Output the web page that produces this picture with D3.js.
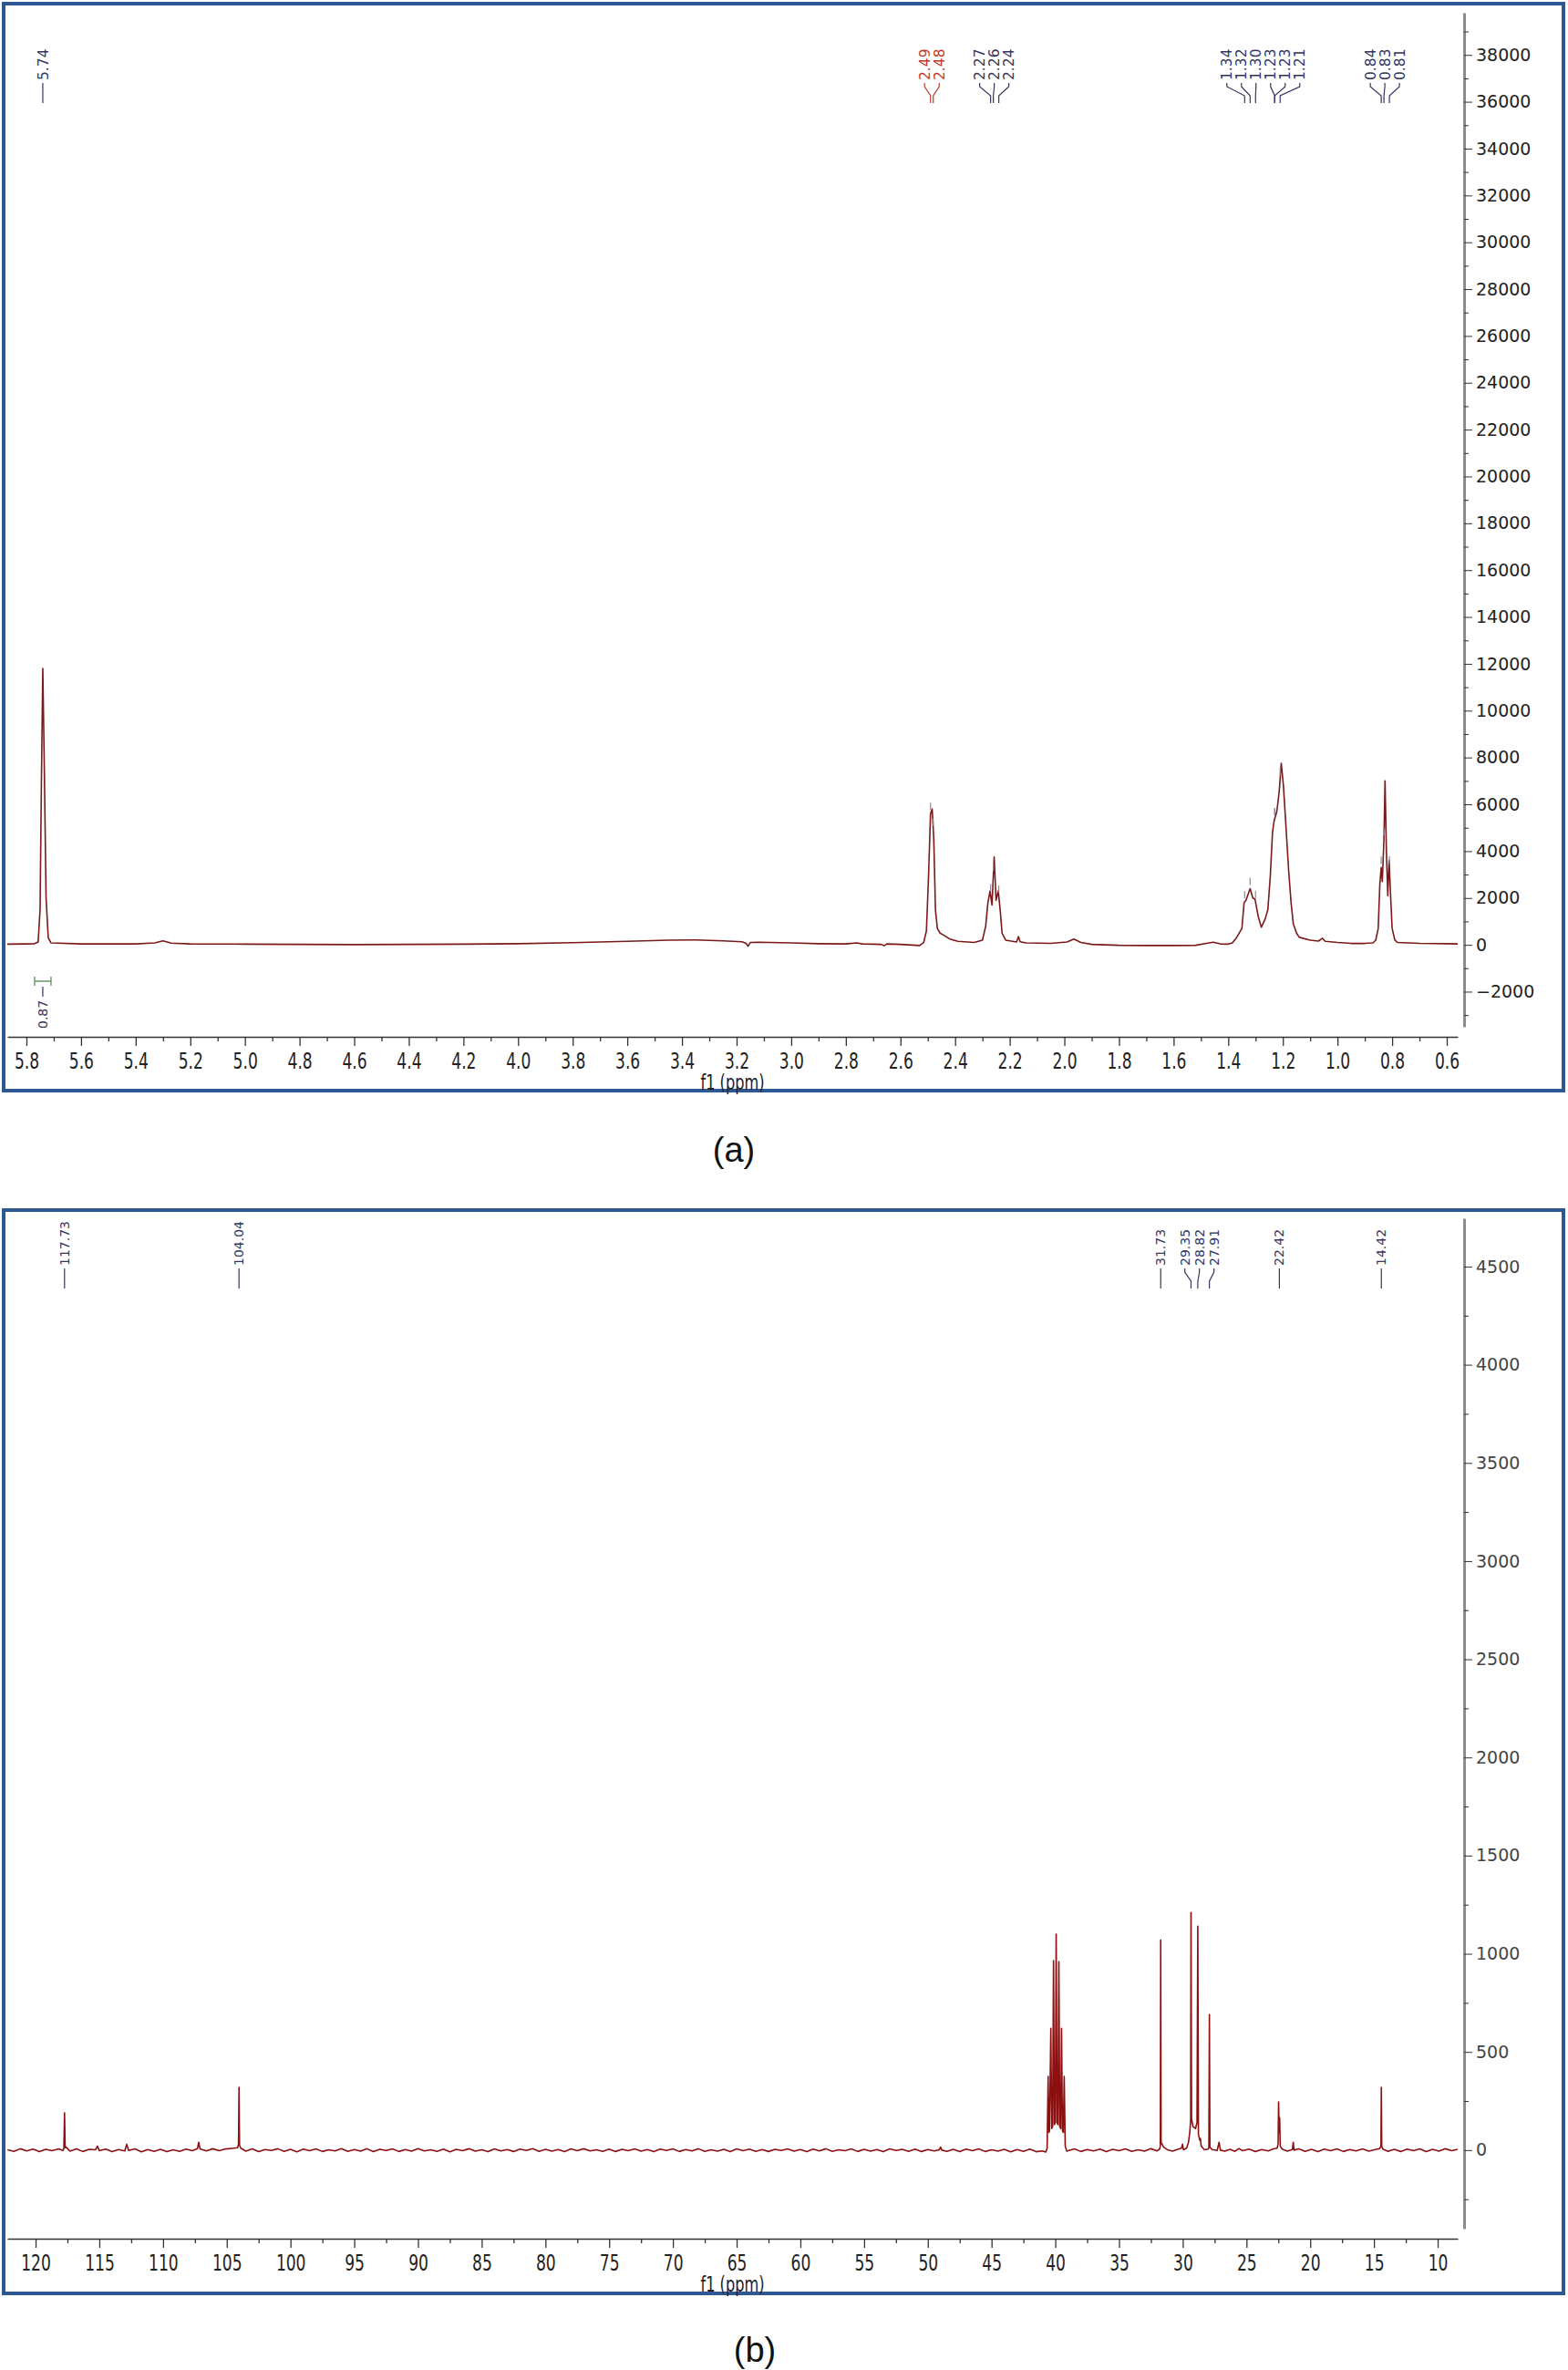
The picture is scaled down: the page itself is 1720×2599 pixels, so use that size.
<!DOCTYPE html>
<html>
<head>
<meta charset="utf-8">
<script src="https://cdn.jsdelivr.net/npm/d3@7"></script>
<style>
  body { margin: 0; background: #fff; }
  svg { display: block; font-family: "DejaVu Sans", sans-serif; }
</style>
</head>
<body>
<div id="chart"></div>
<script>
// ---- Data: (a) 1H spectrum, [ppm, intensity]
const hSpectrum = [
  [5.870, 30], [5.80, 40], [5.77, 50], [5.757, 120], [5.750, 1500], [5.745, 7000], [5.740, 11800],
  [5.735, 8000], [5.728, 2000], [5.720, 300], [5.710, 80], [5.60, 40], [5.40, 40], [5.33, 80],
  [5.30, 170], [5.27, 70], [5.20, 40], [5.00, 30], [4.80, 20], [4.60, 10], [4.40, 20], [4.20, 30],
  [4.00, 50], [3.80, 90], [3.60, 150], [3.45, 200], [3.35, 210], [3.25, 170], [3.18, 130],
  [3.165, 60], [3.158, -60], [3.150, 100], [3.12, 110], [3.00, 80], [2.90, 50], [2.80, 40],
  [2.76, 80], [2.74, 40], [2.67, 20], [2.66, -40], [2.65, 40], [2.60, 20], [2.53, -30],
  [2.515, 100], [2.505, 600], [2.497, 3000], [2.490, 5600], [2.484, 5800], [2.478, 4500],
  [2.472, 1500], [2.465, 700], [2.455, 500], [2.44, 400], [2.42, 250], [2.39, 150], [2.33, 100],
  [2.30, 200], [2.288, 800], [2.280, 1800], [2.272, 2300], [2.265, 1700], [2.257, 3750],
  [2.250, 1900], [2.242, 2300], [2.235, 1500], [2.228, 500], [2.215, 200], [2.19, 150],
  [2.175, 120], [2.168, 350], [2.162, 130], [2.14, 80], [2.05, 60], [1.99, 120], [1.965, 250],
  [1.94, 100], [1.90, 20], [1.80, -20], [1.70, -30], [1.60, -30], [1.52, -20], [1.47, 80],
  [1.455, 110], [1.43, 40], [1.40, 30], [1.385, 80], [1.37, 300], [1.35, 700], [1.342, 1800],
  [1.335, 1900], [1.320, 2400], [1.310, 2000], [1.302, 1950], [1.290, 1200], [1.279, 750],
  [1.265, 1100], [1.255, 1500], [1.246, 2950], [1.238, 4800], [1.232, 5300], [1.222, 5700],
  [1.213, 6600], [1.206, 7750], [1.198, 6800], [1.190, 5300], [1.179, 3200], [1.170, 1800],
  [1.162, 900], [1.150, 500], [1.140, 320], [1.10, 200], [1.07, 160], [1.055, 280], [1.045, 150],
  [1.00, 100], [0.95, 60], [0.90, 60], [0.87, 80], [0.860, 200], [0.851, 700], [0.845, 2600],
  [0.840, 3300], [0.836, 2700], [0.830, 4500], [0.826, 7000], [0.821, 4000], [0.816, 2100],
  [0.811, 3600], [0.806, 2200], [0.800, 700], [0.790, 200], [0.780, 100], [0.70, 60],
  [0.60, 50], [0.560, 40]
];
const hPeaks = ['5.74', '2.49', '2.48', '2.27', '2.26', '2.24', '1.34', '1.32', '1.30', '1.23', '1.23', '1.21', '0.84', '0.83', '0.81'];
const hSolventPeaks = ['2.49', '2.48'];
const hIntegralRange = [5.77, 5.71];
const hIntegralValue = '0.87';
const hXTicks = [5.8, 5.6, 5.4, 5.2, 5.0, 4.8, 4.6, 4.4, 4.2, 4.0, 3.8, 3.6, 3.4, 3.2, 3.0, 2.8, 2.6, 2.4, 2.2, 2.0, 1.8, 1.6, 1.4, 1.2, 1.0, 0.8, 0.6];
const hYTicks = [-2000, 0, 2000, 4000, 6000, 8000, 10000, 12000, 14000, 16000, 18000, 20000, 22000, 24000, 26000, 28000, 30000, 32000, 34000, 36000, 38000];

// ---- Data: (b) 13C spectrum, [ppm, intensity]
const cSpectrum = [
  [122.2, 2], [121.7, -6], [121.2, 7], [120.7, -4], [120.2, 5], [119.7, -8], [119.2, 4], [118.7, -3],
  [118.2, 6], [117.85, -2], [117.78, 10], [117.73, 190], [117.68, 12], [117.6, 15], [117.3, -5],
  [116.8, 6], [116.3, -7], [115.8, 4], [115.3, 2], [115.15, 20], [115.0, -3], [114.5, 5], [114.0, -8],
  [113.5, 3], [113.0, -4], [112.85, 30], [112.7, -2], [112.2, 6], [111.7, -9], [111.2, 3], [110.7, -6],
  [110.2, 4], [109.7, -8], [109.2, 2], [108.7, -6], [108.2, 5], [107.7, -3], [107.3, 8], [107.2, 40],
  [107.1, 6], [106.6, -4], [106.1, 7], [105.6, -3], [105.1, 6], [104.6, 9], [104.15, 12], [104.08, 30],
  [104.04, 320], [104.0, 25], [103.9, 10], [103.5, -5], [103.0, 6], [102.5, -8], [102.0, 3], [101.5, -2],
  [101.0, 7], [100.5, -6], [100.0, 4], [99.5, -9], [99.0, 5], [98.5, -3], [98.0, 6], [97.5, -7],
  [97.0, 2], [96.5, -4], [96.0, 8], [95.5, -6], [95.0, 3], [94.5, -5], [94.0, 7], [93.5, -8],
  [93.0, 4], [92.5, -2], [92.0, 6], [91.5, -7], [91.0, 3], [90.5, -5], [90.0, 8], [89.5, -4],
  [89.0, 2], [88.5, -6], [88.0, 5], [87.5, -9], [87.0, 4], [86.5, -3], [86.0, 7], [85.5, -5],
  [85.0, 2], [84.5, -8], [84.0, 6], [83.5, -4], [83.0, 3], [82.5, -7], [82.0, 5], [81.5, -2],
  [81.0, 8], [80.5, -6], [80.0, 4], [79.5, -5], [79.0, 3], [78.5, -8], [78.0, 6], [77.5, -3],
  [77.0, 7], [76.5, -4], [76.0, 2], [75.5, -6], [75.0, 5], [74.5, -7], [74.0, 4], [73.5, -3],
  [73.0, 6], [72.5, -5], [72.0, 3], [71.5, -8], [71.0, 5], [70.5, -2], [70.0, 6], [69.5, -7],
  [69.0, 3], [68.5, -4], [68.0, 7], [67.5, -6], [67.0, 2], [66.5, -5], [66.0, 4], [65.5, -8],
  [65.0, 6], [64.5, -3], [64.0, 5], [63.5, -6], [63.0, 3], [62.5, -7], [62.0, 4], [61.5, -2],
  [61.0, 6], [60.5, -5], [60.0, 3], [59.5, -8], [59.0, 5], [58.5, -4], [58.0, 7], [57.5, -6],
  [57.0, 2], [56.5, -3], [56.0, 6], [55.5, -7], [55.0, 4], [54.5, -5], [54.0, 3], [53.5, -8],
  [53.0, 6], [52.5, -2], [52.0, 4], [51.5, -6], [51.0, 5], [50.5, -7], [50.0, 3], [49.5, -4],
  [49.1, 2], [49.0, 15], [48.9, 0], [48.5, -6], [48.0, 4], [47.5, -8], [47.0, 5], [46.5, -3],
  [46.0, 6], [45.5, -7], [45.0, 2], [44.5, -5], [44.0, 4], [43.5, -9], [43.0, 3], [42.5, -6],
  [42.0, 5], [41.5, -8], [41.0, -4], [40.75, -10], [40.64, 10], [40.56, 375], [40.50, 90],
  [40.45, 100], [40.35, 620], [40.28, 110], [40.21, 120], [40.14, 965], [40.07, 130], [40.00, 140],
  [39.93, 1100], [39.86, 140], [39.79, 130], [39.72, 960], [39.65, 120], [39.58, 110], [39.51, 620],
  [39.44, 100], [39.37, 90], [39.30, 375], [39.22, 20], [39.1, -5], [38.5, 6], [38.0, -7], [37.5, 3],
  [37.0, -4], [36.5, 5], [36.0, -8], [35.5, 4], [35.0, -3], [34.5, 6], [34.0, -6], [33.5, 2],
  [33.0, -5], [32.5, 7], [32.0, -4], [31.82, 5], [31.76, 20], [31.73, 1070], [31.70, 40], [31.62, 30],
  [31.5, 15], [31.2, 2], [30.8, -5], [30.4, 4], [30.1, 10], [30.02, 30], [29.95, 2], [29.7, 10],
  [29.55, 40], [29.45, 90], [29.38, 150], [29.35, 1210], [29.31, 160], [29.2, 120], [29.0, 110],
  [28.88, 140], [28.82, 1140], [28.77, 80], [28.66, 50], [28.62, 60], [28.55, 20], [28.3, 2],
  [28.0, 5], [27.95, 15], [27.91, 690], [27.87, 15], [27.7, 3], [27.3, -2], [27.15, 40], [27.05, 0],
  [26.7, -5], [26.3, 4], [25.9, -6], [25.6, 8], [25.3, -3], [24.8, 5], [24.3, -7], [23.8, 3],
  [23.3, -4], [22.9, 6], [22.6, 10], [22.52, 30], [22.48, 245], [22.44, 90], [22.40, 165],
  [22.35, 20], [22.2, 5], [21.8, -5], [21.4, 3], [21.33, 40], [21.27, 0], [20.9, 6], [20.4, -6],
  [19.9, 4], [19.4, -8], [18.9, 5], [18.4, -3], [17.9, 6], [17.4, -7], [16.9, 3], [16.4, -4],
  [15.9, 6], [15.4, -5], [14.9, 3], [14.55, 8], [14.45, 20], [14.42, 320], [14.39, 20], [14.3, 5],
  [13.9, -6], [13.4, 4], [12.9, -7], [12.4, 5], [11.9, -3], [11.4, 6], [10.9, -8], [10.4, 4],
  [9.9, -5], [9.4, 7], [8.9, -3], [8.43, 4]
];
const cPeaks = ['117.73', '104.04', '31.73', '29.35', '28.82', '27.91', '22.42', '14.42'];
const cXTicks = [120, 115, 110, 105, 100, 95, 90, 85, 80, 75, 70, 65, 60, 55, 50, 45, 40, 35, 30, 25, 20, 15, 10];
const cYTicks = [0, 500, 1000, 1500, 2000, 2500, 3000, 3500, 4000, 4500];

const svg = d3.select('#chart')
  .append('svg')
  .attr('width', 1720)
  .attr('height', 2599);

svg.append('rect').attr('width', 1720).attr('height', 2599).attr('fill', '#fff');

const panels = [
  {
    name: '(a)',
    box: {x: 4, y: 4, w: 1711, h: 1192},
    x: d3.scaleLinear().domain([5.870, 0.560]).range([8, 1599]),
    y: d3.scaleLinear().domain([-3500, 39800]).range([1126, 14]),
    xAxisY: 1137,
    yAxisX: 1606,
    spectrum: hSpectrum,
    peaks: hPeaks,
    solvent: hSolventPeaks,
    xTicks: hXTicks,
    yTicks: hYTicks,
    yTickFmt: d3.format('d'),
    xTickFmt: d3.format('.1f'),
    labelBase: 88,
    labelSize: 15.5,
    lineColor: '#7a1a1a',
    yLabelColor: '#222',
    caption: {x: 805, y: 1264},
    marks: true
  },
  {
    name: '(b)',
    box: {x: 4, y: 1327, w: 1711, h: 1188},
    x: d3.scaleLinear().domain([122.22, 8.43]).range([8, 1599]),
    y: d3.scaleLinear().domain([-400, 4746]).range([2444, 1336]),
    xAxisY: 2455,
    yAxisX: 1606,
    spectrum: cSpectrum,
    peaks: cPeaks,
    solvent: [],
    xTicks: cXTicks,
    yTicks: cYTicks,
    yTickFmt: d3.format('d'),
    xTickFmt: d3.format('d'),
    labelBase: 1388,
    labelSize: 14,
    lineColor: '#8e0f0f',
    yLabelColor: '#444',
    caption: {x: 828, y: 2580},
    marks: false
  }
];

panels.forEach(drawPanel);
drawIntegral(panels[0]);

function drawPanel(p) {
  const g = svg.append('g');

  // frame
  g.append('rect')
    .attr('x', p.box.x).attr('y', p.box.y)
    .attr('width', p.box.w).attr('height', p.box.h)
    .attr('fill', 'none')
    .attr('stroke', '#2d5893')
    .attr('stroke-width', 4);

  drawXAxis(g, p);
  drawYAxis(g, p);

  // spectrum
  const line = d3.line()
    .x(d => p.x(d[0]))
    .y(d => p.y(d[1]));
  g.append('path')
    .datum(p.spectrum)
    .attr('d', line)
    .attr('fill', 'none')
    .attr('stroke', p.lineColor)
    .attr('stroke-width', 1.6)
    .attr('stroke-linejoin', 'round');

  drawPeakLabels(g, p);

  svg.append('text')
    .attr('x', p.caption.x).attr('y', p.caption.y)
    .attr('text-anchor', 'middle')
    .attr('dominant-baseline', 'middle')
    .style('font-family', '"Liberation Sans", Arial, sans-serif')
    .style('font-size', '38px')
    .attr('fill', '#111')
    .text(p.name);
}

function drawXAxis(g, p) {
  const minors = p.xTicks.slice(1).map((t, i) => (t + p.xTicks[i]) / 2);
  const axis = g.append('g')
    .attr('transform', `translate(0, ${p.xAxisY})`)
    .call(d3.axisBottom(p.x).tickValues(p.xTicks).tickSize(10).tickSizeOuter(0).tickFormat(''));
  g.append('g')
    .attr('transform', `translate(0, ${p.xAxisY})`)
    .call(d3.axisBottom(p.x).tickValues(minors).tickSize(5).tickSizeOuter(0).tickFormat(''))
    .select('.domain').remove();

  g.selectAll('.domain').attr('stroke', '#333').attr('stroke-width', 1.5);
  g.selectAll('.tick line').attr('stroke', '#333').attr('stroke-width', 1.3);

  axis.selectAll('.tick')
    .append('text')
    .attr('transform', 'translate(0, 28) scale(1, 1.3)')
    .attr('text-anchor', 'middle')
    .attr('dominant-baseline', 'middle')
    .attr('fill', '#222')
    .style('font-family', '"DejaVu Sans Condensed", "DejaVu Sans", sans-serif')
    .style('font-size', '19px')
    .text(d => p.xTickFmt(d));

  g.append('text')
    .attr('transform', `translate(${(p.x.range()[0] + p.x.range()[1]) / 2}, ${p.xAxisY + 51}) scale(1, 1.3)`)
    .attr('text-anchor', 'middle')
    .attr('dominant-baseline', 'middle')
    .attr('fill', '#222')
    .style('font-family', '"DejaVu Sans Condensed", "DejaVu Sans", sans-serif')
    .style('font-size', '18px')
    .text('f1 (ppm)');
}

function drawYAxis(g, p) {
  const step = p.yTicks[1] - p.yTicks[0];
  const [lo, hi] = p.y.domain();
  const minors = [p.yTicks[0] - step / 2].concat(p.yTicks.map(t => t + step / 2))
    .filter(v => v > lo && v < hi);

  const axis = g.append('g')
    .attr('transform', `translate(${p.yAxisX}, 0)`)
    .call(d3.axisRight(p.y).tickValues(p.yTicks).tickSize(9).tickPadding(4).tickSizeOuter(0).tickFormat(p.yTickFmt));
  g.append('g')
    .attr('transform', `translate(${p.yAxisX}, 0)`)
    .call(d3.axisRight(p.y).tickValues(minors).tickSize(5).tickSizeOuter(0).tickFormat(''))
    .select('.domain').remove();

  axis.select('.domain').attr('stroke', '#8c8c8c').attr('stroke-width', 3);
  g.selectAll('.tick line').attr('stroke', '#333');
  axis.selectAll('.tick text')
    .attr('fill', p.yLabelColor)
    .style('font-family', '"DejaVu Sans", sans-serif')
    .style('font-size', '19px');
}

// spread labels of close peaks, each cluster centred on its peaks
function layoutLabels(xs, gap) {
  let clusters = xs.map(v => ({xs: [v]}));
  const centre = c => d3.mean(c.xs);
  let merged = true;
  while (merged) {
    merged = false;
    for (let i = 1; i < clusters.length; i++) {
      const a = clusters[i - 1], b = clusters[i];
      const aRight = centre(a) + (a.xs.length - 1) / 2 * gap;
      const bLeft = centre(b) - (b.xs.length - 1) / 2 * gap;
      if (bLeft - aRight < gap) {
        clusters.splice(i - 1, 2, {xs: a.xs.concat(b.xs)});
        merged = true;
        break;
      }
    }
  }
  const out = [];
  clusters.forEach(c => {
    const m = centre(c);
    c.xs.forEach((v, j) => out.push(m + (j - (c.xs.length - 1) / 2) * gap));
  });
  return out;
}

function intensityAt(spectrum, ppm) {
  for (let i = 1; i < spectrum.length; i++) {
    const [x0, y0] = spectrum[i - 1], [x1, y1] = spectrum[i];
    if (ppm <= x0 && ppm >= x1) return y0 + (y1 - y0) * (ppm - x0) / (x1 - x0);
  }
  return 0;
}

function drawPeakLabels(g, p) {
  const peakX = p.peaks.map(v => p.x(+v));
  const labelX = layoutLabels(peakX, 16);
  const y0 = p.labelBase + 3;

  p.peaks.forEach((v, i) => {
    const color = p.solvent.includes(v) ? '#c0392b' : '#35355e';
    g.append('text')
      .attr('transform', `translate(${labelX[i]}, ${p.labelBase}) rotate(-90)`)
      .attr('dy', '0.36em')
      .attr('fill', color)
      .style('font-size', `${p.labelSize}px`)
      .text(v);

    g.append('path')
      .attr('d', d3.line()([[labelX[i], y0], [labelX[i], y0 + 4], [peakX[i], y0 + 14], [peakX[i], y0 + 22]]))
      .attr('fill', 'none')
      .attr('stroke', color)
      .attr('stroke-width', 1.2);

    if (p.marks && v !== '5.74') {
      const top = p.y(intensityAt(p.spectrum, +v));
      g.append('line')
        .attr('x1', peakX[i]).attr('x2', peakX[i])
        .attr('y1', top - 12).attr('y2', top - 4)
        .attr('stroke', '#8a8aa0')
        .attr('stroke-width', 1.2);
    }
  });
}

function drawIntegral(p) {
  const g = svg.append('g');
  const x0 = p.x(hIntegralRange[0]), x1 = p.x(hIntegralRange[1]);
  const xm = (x0 + x1) / 2;
  g.append('path')
    .attr('d', `M${x0},1071V1081M${x0},1076H${x1}M${x1},1071V1081`)
    .attr('fill', 'none')
    .attr('stroke', '#6d946d')
    .attr('stroke-width', 1.4);
  g.append('line')
    .attr('x1', xm).attr('x2', xm)
    .attr('y1', 1082).attr('y2', 1093)
    .attr('stroke', '#35355e')
    .attr('stroke-width', 1.2);
  g.append('text')
    .attr('transform', `translate(${xm}, 1128) rotate(-90)`)
    .attr('dy', '0.36em')
    .attr('fill', '#35355e')
    .style('font-size', '14px')
    .text(hIntegralValue);
}
</script>
</body>
</html>
